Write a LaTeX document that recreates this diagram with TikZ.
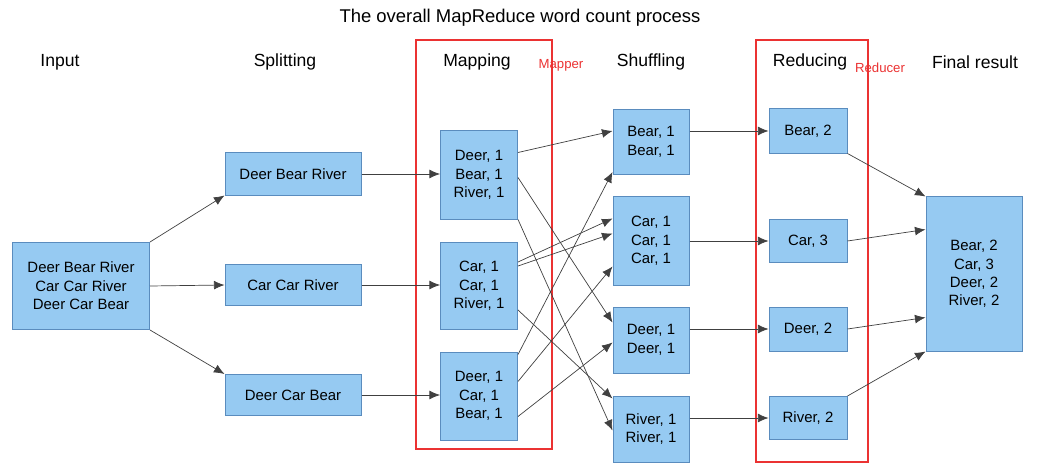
\documentclass[tikz,border=0pt]{standalone}
\usepackage{fontspec}
\setmainfont{Liberation Sans}
\usetikzlibrary{arrows.meta}
\definecolor{bfill}{RGB}{150,202,242}
\definecolor{bdraw}{RGB}{90,140,190}
\definecolor{lred}{RGB}{235,50,50}
\begin{document}
\begin{tikzpicture}[x=0.02cm,y=-0.02cm,
  box/.style={draw=bdraw,fill=bfill,align=center,inner sep=0pt,font=\fontsize{8.5}{10.5}\selectfont},
  hdr/.style={font=\fontsize{10}{12}\selectfont},
  red/.style={draw=lred,line width=1.3pt},
  rlab/.style={text=lred,font=\fontsize{7.5}{9}\selectfont},
  ar/.style={draw=black!75,-{Latex[length=6pt,width=5pt]}}]
\useasboundingbox (0,0) rectangle (1050,469);
\newcommand{\bx}[6]{\node[box,minimum width=#4*0.02cm-0.4pt,minimum height=#5*0.02cm-0.4pt] (#1) at (#2,#3) {#6};}
\node[hdr,font=\fontsize{10.5}{12}\selectfont] (title) at (520,18) {The overall MapReduce word count process};
\node[hdr] (h1) at (60,62) {Input};
\node[hdr] (h2) at (285,62) {Splitting};
\node[hdr] (h3) at (477,62) {Mapping};
\node[hdr] (h4) at (651,62) {Shuffling};
\node[hdr] (h5) at (810,62) {Reducing};
\node[hdr] (h6) at (975,62) {Final result};
\node[red,minimum width=136*0.02cm,minimum height=409*0.02cm,inner sep=0] (mr) at (484,244.5) {};
\node[red,minimum width=112*0.02cm,minimum height=422*0.02cm,inner sep=0] (rr) at (812,251) {};
\node[rlab] (ml) at (561,65) {Mapper};
\node[rlab] (rl) at (880,68) {Reducer};
\bx{in}{81}{286}{138}{88}{Deer Bear River\\Car Car River\\Deer Car Bear}
\bx{s1}{293}{174}{137}{43}{Deer Bear River}
\bx{s2}{293}{285}{137}{42}{Car Car River}
\bx{s3}{293}{395}{137}{42}{Deer Car Bear}
\bx{m1}{479}{175}{78}{89}{Deer, 1\\Bear, 1\\River, 1}
\bx{m2}{479}{286}{78}{88}{Car, 1\\Car, 1\\River, 1}
\bx{m3}{479}{396}{78}{89}{Deer, 1\\Car, 1\\Bear, 1}
\bx{f1}{651}{142}{77}{66}{Bear, 1\\Bear, 1}
\bx{f2}{651}{241}{77}{89}{Car, 1\\Car, 1\\Car, 1}
\bx{f3}{651}{340}{77}{67}{Deer, 1\\Deer, 1}
\bx{f4}{651}{429}{77}{67}{River, 1\\River, 1}
\bx{r1}{808}{131}{79}{45}{Bear, 2}
\bx{r2}{808}{241}{79}{44}{Car, 3}
\bx{r3}{808}{329}{79}{45}{Deer, 2}
\bx{r4}{808}{418}{79}{44}{River, 2}
\bx{fin}{974}{274}{97}{155}{Bear, 2\\Car, 3\\Deer, 2\\River, 2}
% input -> splitting
\draw[ar] (in.north east) -- (s1.south west);
\draw[ar] (in.east) -- (s2.west);
\draw[ar] (in.south east) -- (s3.north west);
\draw[ar] (s1.east) -- (s1.east-|m1.west);
\draw[ar] (s2.east) -- (s2.east-|m2.west);
\draw[ar] (s3.east) -- (s3.east-|m3.west);
% mapping -> shuffling
\draw[ar] ([yshift=-22*0.02cm]m1.north east) -- ([yshift=-22*0.02cm]f1.north west);
\draw[ar] ([yshift=-47*0.02cm]m1.north east) -- ([yshift=-16*0.02cm]f3.north west);
\draw[ar] (m1.south east) -- ([yshift=-35*0.02cm]f4.north west);
\draw[ar] ([yshift=-20*0.02cm]m2.north east) -- ([yshift=-22*0.02cm]f2.north west);
\draw[ar] ([yshift=-24*0.02cm]m2.north east) -- ([yshift=-37*0.02cm]f2.north west);
\draw[ar] ([yshift=-68*0.02cm]m2.north east) -- ([yshift=-3*0.02cm]f4.north west);
\draw[ar] ([yshift=-3*0.02cm]m3.north east) -- ([yshift=-63*0.02cm]f1.north west);
\draw[ar] ([yshift=-30*0.02cm]m3.north east) -- ([yshift=-70*0.02cm]f2.north west);
\draw[ar] ([yshift=-65*0.02cm]m3.north east) -- ([yshift=-36*0.02cm]f3.north west);
% shuffling -> reducing
\foreach \a/\b in {f1/r1,f2/r2,f3/r3,f4/r4}{\draw[ar] (\b.west-|\a.east) -- (\b.west);}
% reducing -> final
\draw[ar] (r1.south east) -- (fin.north west);
\draw[ar] (r2.east) -- ([yshift=-33*0.02cm]fin.north west);
\draw[ar] (r3.east) -- ([yshift=-121*0.02cm]fin.north west);
\draw[ar] (r4.north east) -- (fin.south west);
\end{tikzpicture}
\end{document}
